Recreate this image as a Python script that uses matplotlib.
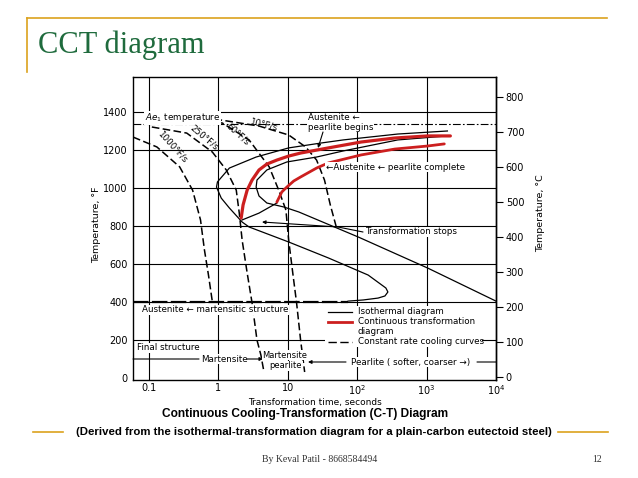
import matplotlib
matplotlib.use("Agg")
import matplotlib.pyplot as plt
from matplotlib.lines import Line2D
from matplotlib.patches import Rectangle
from matplotlib.ticker import NullLocator

# ---- data (time in seconds, temperature in deg F) ----
time_ticks = [0.1, 1, 10, 100, 1000, 10000]
time_labels = ["0.1", "1", "10", "10$^2$", "10$^3$", "10$^4$"]
temp_ticks_f = [0, 200, 400, 600, 800, 1000, 1200, 1400]
temp_ticks_c = [0, 100, 200, 300, 400, 500, 600, 700, 800]

ae1_temp = 1337

# isothermal start curve (upper branch, nose, lower branch to the bay)
start_time = [1995, 385, 63, 30.6, 10.3, 3.5, 1.44, 0.97, 0.94, 1.1, 1.44, 2.2,
              2.77, 10.3, 38.5, 144, 259, 277, 251, 200, 122, 74]
start_temp = [1300, 1284, 1253, 1237, 1211, 1163, 1105, 1032, 1005, 947, 895, 821,
              795, 716, 632, 542, 474, 453, 432, 421, 411, 405]

# martensite start line
ms_time = [0.059, 74]
ms_temp = [400, 400]

# isothermal finish curve
finish_time = [1995, 385, 63, 26, 9.7, 5.0, 3.6, 3.5, 3.85, 5.0, 8.8, 14.4, 104, 1036, 10000]
finish_temp = [1274, 1253, 1195, 1163, 1137, 1095, 1042, 1005, 958, 921, 900, 874, 742, 579, 405]

# continuous transformation curves (red)
cct_start_time = [2.13, 2.27, 2.6, 3.06, 3.85, 5.0, 6.96, 10.3, 15.3, 38.5, 114, 349, 1036, 2200]
cct_start_temp = [842, 911, 989, 1042, 1095, 1126, 1147, 1168, 1184, 1211, 1242, 1263, 1274, 1274]
cct_finish_time = [6.96, 8.2, 9.7, 12.2, 15.3, 26, 38.5, 114, 349, 1036, 1800]
cct_finish_temp = [926, 979, 1005, 1037, 1058, 1105, 1132, 1174, 1205, 1221, 1232]

# transformation stops segment
stop_time = [2.2, 3.85, 6.96]
stop_temp = [832, 868, 921]

# constant rate cooling curves
rate_1000_time = [0.059, 0.13, 0.277, 0.425, 0.553, 0.63, 0.72, 0.82]
rate_1000_temp = [1268, 1216, 1111, 989, 832, 674, 542, 400]
rate_250_time = [0.11, 0.35, 0.82, 1.3, 1.81, 2.0, 2.2, 2.6, 3.06, 3.6, 4.1, 4.54]
rate_250_temp = [1321, 1289, 1189, 1095, 989, 868, 726, 553, 395, 200, 121, 32]
rate_60_time = [0.45, 1.14, 2.77, 5.4, 7.4, 9.4, 10.3, 11.8, 13.4, 15.3, 17.5]
rate_60_temp = [1347, 1342, 1253, 1111, 989, 884, 726, 553, 395, 200, 32]
rate_10_time = [0.88, 3.85, 10.3, 18.1, 26, 33.8, 41, 50]
rate_10_temp = [1363, 1326, 1279, 1216, 1147, 1042, 911, 795]

W, H = 638, 478
GOLD = "#dba21e"
GREEN = "#1f6b3d"
RED = "#cc1f1f"
SANS = "DejaVu Sans"

fig = plt.figure(figsize=(W / 100, H / 100), dpi=100)
ax = fig.add_axes([133 / W, 1 - 380 / H, (496 - 133) / W, (380 - 77) / H])
ax.set_xscale("log")
ax.set_xlim(10 ** -1.23, 1e4)
ax.set_ylim(-10, 1584)


def frac(px, py):
    return px / W, 1 - py / H


def note(px, py, s, **kw):
    x, y = frac(px, py)
    kw.setdefault("fontsize", 6.3)
    kw.setdefault("va", "center")
    kw.setdefault("family", SANS)
    ax.text(x, y, s, transform=fig.transFigure, zorder=7, **kw)


def seg(p0, p1, style="-", lw=0.8):
    ax.annotate("", xy=frac(*p1), xytext=frac(*p0), xycoords="figure fraction",
                textcoords="figure fraction", zorder=7,
                arrowprops=dict(arrowstyle=style, lw=lw, color="black",
                                shrinkA=0, shrinkB=0, mutation_scale=5))


white = dict(facecolor="white", edgecolor="none", pad=0.6)

# grid
for f in temp_ticks_f[1:]:
    ax.axhline(f, color="black", lw=0.8, zorder=1)
for t in time_ticks[:-1]:
    ax.axvline(t, color="black", lw=0.8, zorder=1)

ax.axhline(ae1_temp, color="black", lw=0.8, dashes=(7, 2, 1.5, 2), zorder=2)
ax.plot(ms_time, ms_temp, color="black", lw=1.6, dashes=(7, 1.5), zorder=2)

# isothermal diagram
ax.plot(start_time, start_temp, color="black", lw=0.9, zorder=3)
ax.plot(finish_time, finish_temp, color="black", lw=0.9, zorder=3)
ax.plot(stop_time, stop_temp, color="black", lw=0.9, zorder=3)

# cooling curves
for tt, ff in [(rate_1000_time, rate_1000_temp), (rate_250_time, rate_250_temp),
               (rate_60_time, rate_60_temp), (rate_10_time, rate_10_temp)]:
    ax.plot(tt, ff, color="black", lw=1.1, dashes=(5, 2.2), zorder=3)

# continuous transformation diagram
ax.plot(cct_start_time, cct_start_temp, color=RED, lw=2.3, zorder=4,
        solid_capstyle="round")
ax.plot(cct_finish_time, cct_finish_temp, color=RED, lw=2.0, zorder=4,
        solid_capstyle="round")

# axes styling
ax.set_xticks(time_ticks)
ax.set_xticklabels(time_labels)
ax.xaxis.set_minor_locator(NullLocator())
ax.set_yticks(temp_ticks_f)
ax.tick_params(length=0, labelsize=7, pad=4)
ax.tick_params(axis="x", pad=2)
for lab in ax.get_xticklabels() + ax.get_yticklabels():
    lab.set_family(SANS)
for s in ax.spines.values():
    s.set_linewidth(1.0)

sec = ax.secondary_yaxis("right", functions=(lambda f: (f - 5.3) / 1.842,
                                              lambda c: c * 1.842 + 5.3))
sec.set_yticks(temp_ticks_c)
sec.tick_params(direction="out", length=5, width=0.8, labelsize=7, pad=2)
sec.spines["right"].set_linewidth(1.0)

# axis titles
fig.text(*frac(97, 225), "Temperature, °F", rotation=90, ha="center", va="center",
         fontsize=6.8, family=SANS)
fig.text(*frac(541, 213), "Temperature, °C", rotation=90, ha="center", va="center",
         fontsize=6.8, family=SANS)
fig.text(*frac(315, 403), "Transformation time, seconds", ha="center", va="center",
         fontsize=6.5, family=SANS)

# labels on the diagram
note(145, 118, r"$Ae_1$ temperature", bbox=white)
note(263, 124, "10°F/s", ha="center", rotation=-14)
note(238, 134, "60°F/s", ha="center", rotation=-42)
note(204, 138, "250°F/s", ha="center", rotation=-40)
note(172, 147, "1000°F/s", ha="center", rotation=-48)

note(308, 118, "Austenite ←", bbox=white)
note(308, 127, "pearlite begins", bbox=white)
seg((323, 132), (318, 148), "-|>")

note(326, 167, "←Austenite ← pearlite complete", bbox=white)

note(365, 232, "Transformation stops", bbox=white)
seg((363, 232), (338, 227))
seg((338, 227), (262, 222), "-|>")

note(142, 310, "Austenite ← martensitic structure", bbox=white)
note(137, 348, "Final structure", bbox=white)
seg((133, 359), (199, 359))
note(201, 359, "Martensite", bbox=white)
seg((247, 359), (263, 359), "-|>")
note(285, 355, "Martensite", ha="center", fontsize=6, bbox=white)
note(286, 366, "pearlite", ha="center", fontsize=6, bbox=white)

note(411, 362, "Pearlite ( softer, coarser →)", ha="center", bbox=white)
seg((346, 362), (308, 362), "-|>")
seg((477, 362), (496, 362))

# legend block
ax.add_patch(Rectangle(frac(325, 347), 157 / W, 41 / H, transform=fig.transFigure,
                       facecolor="white", edgecolor="none", zorder=5))
ax.plot([328 / W, 352 / W], [1 - 312 / H] * 2, color="black", lw=0.9,
        transform=fig.transFigure, zorder=6)
ax.plot([328 / W, 352 / W], [1 - 322 / H] * 2, color=RED, lw=2.0,
        transform=fig.transFigure, zorder=6)
ax.plot([328 / W, 352 / W], [1 - 342 / H] * 2, color="black", lw=1.0,
        dashes=(6, 2.5), transform=fig.transFigure, zorder=6)
note(358, 312, "Isothermal diagram")
note(358, 322, "Continuous transformation")
note(358, 331, "diagram")
note(358, 342, "Constant rate cooling curves")

# slide decorations
fig.add_artist(Line2D([27 / W, 607 / W], [1 - 18 / H] * 2, color=GOLD, lw=1.2))
fig.add_artist(Line2D([27 / W, 27 / W], [1 - 18 / H, 1 - 72 / H], color=GOLD, lw=1.2))
fig.text(*frac(38, 53), "CCT diagram", fontsize=22, family="Liberation Serif",
         color=GREEN, va="baseline")

fig.text(*frac(305, 414), "Continuous Cooling-Transformation (C-T) Diagram",
         ha="center", va="center", fontsize=8.6, weight="bold", family="Liberation Sans")
fig.text(*frac(314, 432),
         "(Derived from the isothermal-transformation diagram for a plain-carbon eutectoid steel)",
         ha="center", va="center", fontsize=8.2, weight="bold", family="Liberation Sans")
fig.add_artist(Line2D([33 / W, 63 / W], [1 - 432 / H] * 2, color=GOLD, lw=1.2))
fig.add_artist(Line2D([558 / W, 608 / W], [1 - 432 / H] * 2, color=GOLD, lw=1.2))

fig.text(*frac(320, 459), "By Keval Patil - 8668584494", ha="center", va="center",
         fontsize=7, family="Liberation Serif", color="#333333")
fig.text(*frac(597, 459), "12", ha="center", va="center", fontsize=7,
         family="Liberation Serif", color="#333333")

fig.savefig("out.png", dpi=100)
